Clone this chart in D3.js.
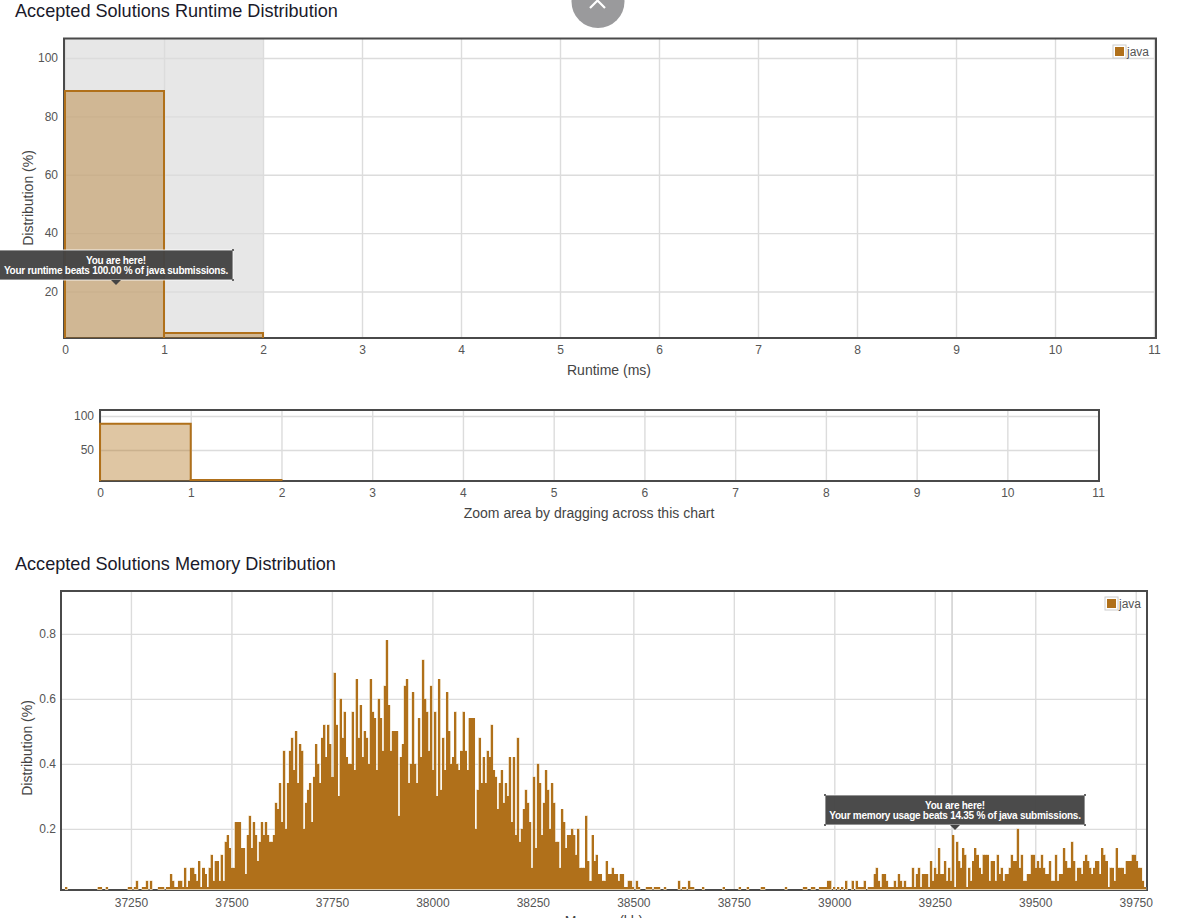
<!DOCTYPE html>
<html>
<head>
<meta charset="utf-8">
<script src="https://cdnjs.cloudflare.com/ajax/libs/d3/7.8.5/d3.min.js"></script>
<style>
html,body{margin:0;padding:0;background:#fff;overflow:hidden}
svg{display:block;font-family:"Liberation Sans",Arial,sans-serif}
.grid line{stroke:#dcdcdc;stroke-width:1.4}
.grid path{display:none}
.grid text{fill:#555;font-size:12px}
.lab{fill:#444;font-size:14px;text-anchor:middle}
.title{fill:#1a1a2a;font-size:18.1px}
.frame{fill:none;stroke:#4a4a4a;stroke-width:2}
.tip{fill:#fff;font-size:10px;text-anchor:middle;font-weight:bold;letter-spacing:-.26px}
</style>
</head>
<body>
<script>
// Runtime distribution (ms bins, % of submissions)
const runtimeBins = [0, 1];
const runtimeValues = [88.7, 5.8];
const runtimeXTicks = [0,1,2,3,4,5,6,7,8,9,10,11];
const runtimeYTicks = [20,40,60,80,100];
const overviewYTicks = [50,100];

// Memory distribution: bars are whole multiples of memoryLevelStep (%)
const memoryStart = 37087;
const memoryBinWidth = 5.015;
const memoryLevelStep = 0.02;
const memoryLevelsA = [1,0,0,0,0,0,0,0,0,0,0,0,0,0,0,0,1,1,0,0,1,0,0,0,0,0,0,0,0,0,0,1,1,0,1,2,0,0,1,1,2,0,2,0,0,0,1,1,1,0];
const memoryLevelsB = [1,1,3,2,1,1,2,2,1,4,1,2,4,4,3,2,5,1,4,3,1,4,6,2,5,5,2,6,2,8,9,7,4,4,11,11,11,7,7,3,9,12,7,11,9,5,8,11,9,11];
const memoryLevelsC = [9,8,8,9,14,13,17,11,22,10,17,22,24,19,25,17,23,22,10,14,16,17,11,18,23,20,17,24,26,21,26,23,18,34,26,15,30,24,28,21,20,20,28,19,33,24,29,21,25,24];
const memoryLevelsD = [20,33,28,27,19,30,27,22,32,39,29,22,25,25,25,12,21,23,32,33,17,20,31,20,17,27,21,36,30,28,22,32,19,28,15,33,16,24,19,31,25,20,21,28,20,19,22,28,22,19];
const memoryLevelsE = [27,27,27,10,16,24,17,21,17,22,21,26,19,18,13,17,19,14,17,15,21,11,21,9,24,8,10,13,16,14,11,4,18,7,20,17,9,14,19,16,10,17,14,8,8,4,13,11,7,9];
const memoryLevelsF = [9,10,9,6,10,4,4,4,12,5,2,9,5,6,3,3,2,2,5,3,3,4,3,3,2,3,3,1,1,2,2,1,0,2,1,0,0,0,1,1,1,0,1,1,1,0,0,1,0,0];
const memoryLevelsG = [0,0,0,0,2,0,1,1,0,2,1,1,0,0,0,0,1,0,0,0,0,0,0,0,0,0,1,0,0,0,0,0,0,0,1,0,0,0,1,0,0,0,0,0,0,1,1,0,0,0];
const memoryLevelsH = [0,0,0,0,0,0,0,1,0,0,0,0,0,0,0,0,1,1,0,0,1,1,0,0,1,1,1,1,2,2,0,1,0,1,0,1,0,2,0,0,2,0,2,1,1,1,2,0,1,1];
const memoryLevelsI = [1,3,4,2,1,3,3,2,1,1,1,2,1,3,2,1,2,1,1,1,4,1,3,4,1,3,3,3,1,5,2,4,3,7,3,3,5,2,4,2,9,1,8,5,4,7,6,1,4,2];
const memoryLevelsJ = [5,7,6,4,3,6,6,6,2,5,5,2,6,3,4,2,3,3,4,6,5,5,10,4,6,2,2,3,3,6,6,4,5,4,6,4,3,3,5,2,2,6,2,3,3,7,5,4,4,8];
const memoryLevelsK = [5,2,4,4,3,5,6,5,4,3,4,5,5,3,7,6,5,1,4,4,2,7,4,4,4,3,5,5,5,6,6,5,4,4,2,1];
const memoryXTicks = [37250,37500,37750,38000,38250,38500,38750,39000,39250,39500,39750];
const memoryYTicks = [0.2,0.4,0.6,0.8];
const memoryYou = 39293;

const BROWN = "#b0701a";
const svg = d3.select("body").append("svg").attr("width",1200).attr("height",918);
const defs = svg.append("defs");

function makePlot(id, box, xDomain, yDomain, xTicks, yTicks, padX, padY){
  const x = d3.scaleLinear().domain(xDomain).range([box.l, box.r]);
  const y = d3.scaleLinear().domain(yDomain).range([box.b, box.t]);
  defs.append("clipPath").attr("id",id).append("rect")
    .attr("x",box.l-1).attr("y",box.t).attr("width",box.r-box.l+1).attr("height",box.b-box.t);
  const back = svg.append("g");
  svg.append("g").attr("class","grid").attr("transform",`translate(0,${box.b})`)
    .call(d3.axisBottom(x).tickValues(xTicks).tickFormat(d3.format("d")).tickSize(-(box.b-box.t)).tickPadding(padX));
  svg.append("g").attr("class","grid").attr("transform",`translate(${box.l},0)`)
    .call(d3.axisLeft(y).tickValues(yTicks).tickFormat(d=>String(d)).tickSize(-(box.r-box.l)).tickPadding(padY));
  svg.append("rect").attr("class","frame").attr("x",box.l).attr("y",box.t)
    .attr("width",box.r-box.l).attr("height",box.b-box.t);
  const marks = svg.append("g").attr("clip-path",`url(#${id})`);
  return {x,y,back,marks,box};
}
function stepBars(p, opacity){
  const {x,y,marks,box} = p;
  marks.selectAll("rect.b").data(runtimeValues).join("rect").attr("class","b")
    .attr("x",(d,i)=>x(runtimeBins[i])).attr("width",(d,i)=>x(runtimeBins[i]+1)-x(runtimeBins[i]))
    .attr("y",d=>y(d)).attr("height",d=>box.b-y(d)).attr("fill",BROWN).attr("fill-opacity",opacity);
  marks.selectAll("path.o").data(runtimeValues).join("path").attr("class","o")
    .attr("d",(d,i)=>{const a=x(runtimeBins[i]),c=x(runtimeBins[i]+1);return `M${a},${box.b}V${y(d)}H${c}V${box.b}`;})
    .attr("fill","none").attr("stroke",BROWN).attr("stroke-width",2);
}
function legend(bx,by){
  svg.append("rect").attr("x",bx).attr("y",by).attr("width",13).attr("height",13).attr("fill","#fff").attr("stroke","#ccc");
  svg.append("rect").attr("x",bx+2).attr("y",by+2).attr("width",9).attr("height",9).attr("fill",BROWN);
  svg.append("text").attr("x",bx+14).attr("y",by+11).attr("fill","#545454").attr("font-size",12).text("java");
}
function tooltip(cx, top, halfW, lines){
  const g = svg.append("g");
  g.append("rect").attr("x",cx-halfW).attr("y",top).attr("width",halfW*2).attr("height",30).attr("fill","#444").attr("fill-opacity",.96).attr("stroke","#fff").attr("stroke-width",.8);
  g.append("path").attr("d",`M${cx-5},${top+30}L${cx},${top+35}L${cx+5},${top+30}Z`).attr("fill","#444");
  [[cx-halfW,top],[cx+halfW,top],[cx-halfW,top+30],[cx+halfW,top+30]].forEach(c=>
    g.append("rect").attr("x",c[0]-1).attr("y",c[1]-1).attr("width",2).attr("height",2).attr("fill","#666"));
  lines.forEach((t,i)=>g.append("text").attr("class","tip").attr("x",cx).attr("y",top+15+i*10-1).text(t));
}

// ---- Runtime
svg.append("text").attr("class","title").attr("x",15).attr("y",17).text("Accepted Solutions Runtime Distribution");
const r = makePlot("c1",{l:64,r:1156,t:38.5,b:338},[-0.01,11.02],[4.07,106.68],runtimeXTicks,runtimeYTicks,7,6);
r.back.append("rect").attr("x",r.x(0)).attr("y",38.5).attr("width",r.x(2)-r.x(0)).attr("height",299.5).attr("fill","#e7e7e7");
stepBars(r,.4);
legend(1113,45);
svg.append("text").attr("class","lab").attr("x",609).attr("y",375).text("Runtime (ms)");
svg.append("text").attr("class","lab").attr("transform","translate(33,198) rotate(-90)").text("Distribution (%)");
tooltip(r.x(0.5)+1.5,250,117,["You are here!","Your runtime beats 100.00 % of java submissions."]);

// ---- Overview
const o = makePlot("c2",{l:100,r:1099,t:410,b:481},[0,11.01],[4.4,108.8],runtimeXTicks,overviewYTicks,7,6);
stepBars(o,.4);
svg.append("text").attr("class","lab").attr("x",589).attr("y",518).text("Zoom area by dragging across this chart");

// ---- Memory
svg.append("text").attr("class","title").attr("x",15).attr("y",569.5).text("Accepted Solutions Memory Distribution");
const m = makePlot("c3",{l:61,r:1147,t:591,b:890},[37076,39778],[0.012,0.932],memoryXTicks,memoryYTicks,8,5);
m.back.append("line").attr("x1",m.x(memoryYou)).attr("x2",m.x(memoryYou)).attr("y1",591).attr("y2",890).attr("stroke","#ccc").attr("stroke-width",1.4);
const memoryLevels = [].concat(memoryLevelsA,memoryLevelsB,memoryLevelsC,memoryLevelsD,memoryLevelsE,memoryLevelsF,memoryLevelsG,memoryLevelsH,memoryLevelsI,memoryLevelsJ,memoryLevelsK);
const memory = memoryLevels.map((k,i)=>({v:memoryStart+i*memoryBinWidth,p:k*memoryLevelStep})).filter(d=>d.p>0);
const w = m.x(memoryStart+memoryBinWidth)-m.x(memoryStart);
m.marks.selectAll("rect.u").data(memory).join("rect").attr("class","u")
  .attr("x",d=>m.x(d.v)-.5).attr("width",w+1).attr("y",d=>m.y(d.p)-.3).attr("height",d=>890-m.y(d.p)+.3).attr("fill","#e3cda8");
m.marks.selectAll("rect.b").data(memory).join("rect").attr("class","b")
  .attr("x",d=>m.x(d.v)).attr("width",w).attr("y",d=>m.y(d.p)).attr("height",d=>889-m.y(d.p)).attr("fill",BROWN).attr("shape-rendering","crispEdges");
legend(1105,597);
svg.append("text").attr("class","lab").attr("x",604).attr("y",926).text("Memory (kb)");
svg.append("text").attr("class","lab").attr("transform","translate(32,748) rotate(-90)").text("Distribution (%)");
tooltip(955,795,130,["You are here!","Your memory usage beats 14.35 % of java submissions."]);

// ---- Close button
svg.append("circle").attr("cx",598).attr("cy",1.5).attr("r",26.5).attr("fill","#9a9a9c");
svg.append("path").attr("d","M590,-7L605,8M605,-7L590,8").attr("stroke","#fff").attr("stroke-width",2.2).attr("fill","none");
</script>
</body>
</html>
